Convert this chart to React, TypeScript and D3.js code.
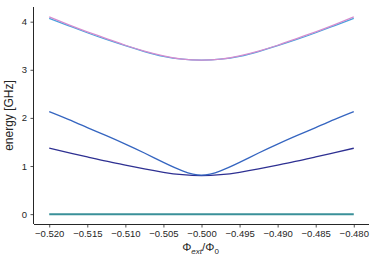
import React, { useEffect, useRef } from 'react';
import * as d3 from 'd3';

// flux points (in units of Phi_0)
const fluxValues = [
  -0.52, -0.5175, -0.515, -0.5125, -0.51, -0.5075, -0.505, -0.5025, -0.5,
  -0.4975, -0.495, -0.4925, -0.49, -0.4875, -0.485, -0.4825, -0.48,
];

// energy levels [GHz]
const level0 = [0, 0, 0, 0, 0, 0, 0, 0, 0, 0, 0, 0, 0, 0, 0, 0, 0];
const level1 = [
  1.37, 1.28, 1.19, 1.1, 1.02, 0.94, 0.87, 0.82, 0.8, 0.82, 0.87, 0.94, 1.02,
  1.1, 1.19, 1.28, 1.37,
];
const level2 = [
  2.13, 1.97, 1.8, 1.63, 1.455, 1.27, 1.075, 0.9, 0.81, 0.9, 1.075, 1.27, 1.455,
  1.63, 1.8, 1.97, 2.13,
];
const level3 = [
  4.07, 3.92, 3.77, 3.63, 3.5, 3.38, 3.28, 3.22, 3.2, 3.22, 3.28, 3.38, 3.5,
  3.63, 3.77, 3.92, 4.07,
];
const level4 = [
  4.1, 3.94, 3.79, 3.65, 3.51, 3.39, 3.29, 3.22, 3.2, 3.22, 3.29, 3.39, 3.51,
  3.65, 3.79, 3.94, 4.1,
];

const xTicks = [-0.52, -0.515, -0.51, -0.505, -0.5, -0.495, -0.49, -0.485, -0.48];
const yTicks = [0, 1, 2, 3, 4];

const levels = [level0, level1, level2, level3, level4];
const colors = ['#3a9099', '#2e3092', '#3565c0', '#47a3de', '#d48ccf'];
const widths = [2, 1.3, 1.3, 1.3, 1.3];

const App: React.FC = () => {
  const ref = useRef<SVGSVGElement | null>(null);
  const width = 376;
  const height = 265;

  useEffect(() => {
    if (!ref.current) return;
    const svg = d3.select(ref.current);
    svg.selectAll('*').remove();

    const left = 34;
    const right = 369;
    const top = 7;
    const bottom = 224;

    const x = d3.scaleLinear().domain([-0.522, -0.478]).range([left, right]);
    const y = d3.scaleLinear().domain([-0.205, 4.305]).range([bottom, top]);

    const font = 'Liberation Sans, Arial, sans-serif';
    const axisColor = '#262626';

    // lines
    levels.forEach((lvl, i) => {
      const line = d3
        .line<number>()
        .x((_, j) => x(fluxValues[j]))
        .y((d) => y(d))
        .curve(d3.curveNatural);
      svg
        .append('path')
        .datum(lvl)
        .attr('fill', 'none')
        .attr('stroke', colors[i])
        .attr('stroke-width', widths[i])
        .attr('d', line);
    });

    // x axis
    const xAxis = svg
      .append('g')
      .attr('transform', `translate(0,${bottom})`)
      .call(
        d3
          .axisBottom(x)
          .tickValues(xTicks)
          .tickSize(3.5)
          .tickPadding(3)
          .tickFormat((d) => d3.format('.3f')(d as number).replace('-', '\u2212'))
      );
    xAxis.select('.domain').attr('stroke', axisColor).attr('d', `M${left},0.5H${right}`);

    // y axis
    const yAxis = svg
      .append('g')
      .attr('transform', `translate(${left},0)`)
      .call(
        d3
          .axisLeft(y)
          .tickValues(yTicks)
          .tickSize(3.5)
          .tickPadding(3.5)
          .tickFormat(d3.format('d'))
      );
    yAxis.select('.domain').attr('stroke', axisColor).attr('d', `M-0.5,${top}V${bottom}`);

    svg
      .selectAll('.tick line')
      .attr('stroke', axisColor)
      .attr('stroke-width', 0.8);
    svg
      .selectAll('.tick text')
      .attr('fill', axisColor)
      .style('font-family', font)
      .style('font-size', '9.5px');

    // x label
    const xl = svg
      .append('text')
      .attr('x', (left + right) / 2 - 1)
      .attr('y', 251)
      .attr('text-anchor', 'middle')
      .attr('fill', axisColor)
      .style('font-family', font)
      .style('font-size', '11.5px');
    xl.append('tspan').text('\u03A6');
    xl.append('tspan')
      .attr('dy', 2.5)
      .style('font-size', '8px')
      .style('font-style', 'italic')
      .text('ext');
    xl.append('tspan').attr('dy', -2.5).text('/\u03A6');
    xl.append('tspan').attr('dy', 2.5).style('font-size', '8px').text('0');

    // y label
    svg
      .append('text')
      .attr('transform', `translate(13,${(top + bottom) / 2}) rotate(-90)`)
      .attr('text-anchor', 'middle')
      .attr('fill', axisColor)
      .style('font-family', font)
      .style('font-size', '12px')
      .text('energy [GHz]');
  }, []);

  return (
    <svg
      ref={ref}
      width={width}
      height={height}
      style={{ position: 'absolute', left: 0, top: 0, background: '#fff' }}
    ></svg>
  );
};

export default App;
